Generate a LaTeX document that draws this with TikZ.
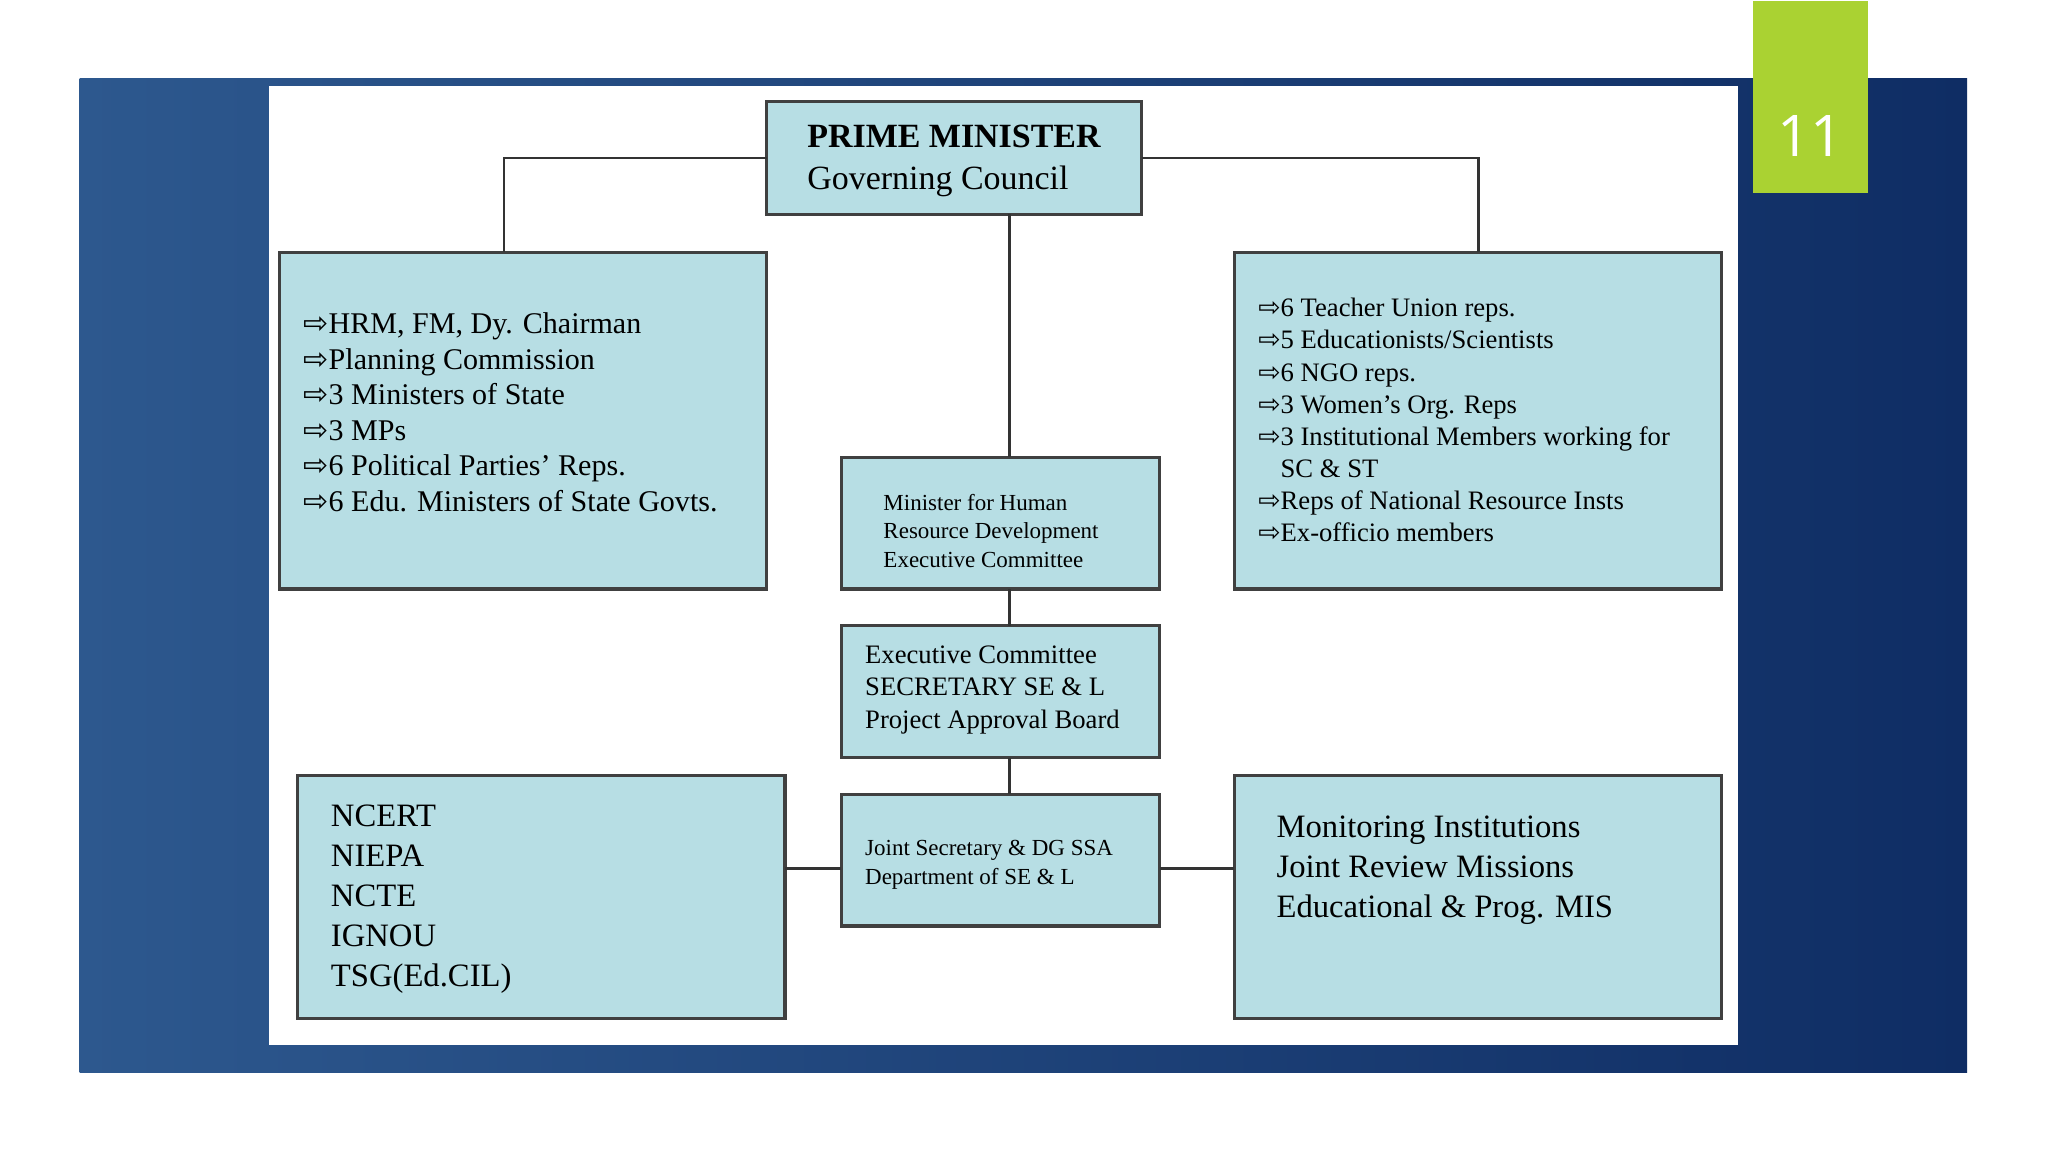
\documentclass[tikz,border=0pt]{standalone}
\usepackage{fontspec}
\setmainfont{Liberation Serif}
\newfontfamily\dejavu{DejaVu Sans}
\newfontfamily\sansf{Open Sans}
\newcommand{\ar}{{\dejavu\char"21E8}}
\begin{document}
\begin{tikzpicture}[x=0.5pt,y=-0.5pt,
 box/.style={draw=black!75,line width=1.2pt,fill={rgb,255:red,183;green,222;blue,228}},
 ln/.style={draw=black!80,line width=1pt},
 txt/.style={anchor=north west,align=left,inner sep=0pt}]
\useasboundingbox (0,0) rectangle (1568,882);
\fill[white] (0,0) rectangle (1568,882);
\shade[left color={rgb,255:red,45;green,88;blue,142},right color={rgb,255:red,15;green,45;blue,100}] (61,60) rectangle (1506,821);
\fill[white] (206,66) rectangle (1331,800);
\node[fill={rgb,255:red,170;green,210;blue,50},minimum width=44pt,minimum height=73.5pt,inner sep=0pt,anchor=north west] (tab) at (1342,0) {};
\node[text=white,font=\sansf\fontsize{22}{24}\selectfont] (num) at (1386,104) {11};
\draw[box] (587,78) rectangle (874,164) node[pos=0.5,coordinate] (pm) {};
\node (pmt) at ([yshift=-1pt]pm) [align=left,font=\fontsize{13}{16}\selectfont] {\textbf{PRIME MINISTER}\\Governing Council};
\draw[box] (214,193) rectangle (587,451);
\draw[box] (945,193) rectangle (1318,451);
\draw[box] (644,350) rectangle (888,451);
\draw[box] (644,479) rectangle (888,580);
\draw[box] (644,608) rectangle (888,709);
\draw[box] (228,594) rectangle (601,780);
\draw[box] (945,594) rectangle (1318,780);
\coordinate (pmL) at (587,121); \coordinate (pmR) at (874,121);
\coordinate (lt) at (386,193); \coordinate (rt) at (1132,193);
\draw[ln] (pmL) -| (lt);
\draw[ln] (pmR) -| (rt);
\coordinate (pmB) at (773,164); \coordinate (m1T) at (773,350);
\coordinate (m1B) at (773,451); \coordinate (m2T) at (773,479);
\coordinate (m2B) at (773,580); \coordinate (m3T) at (773,608);
\draw[ln] (pmB)--(m1T); \draw[ln] (m1B)--(m2T); \draw[ln] (m2B)--(m3T);
\coordinate (m3L) at (644,665); \coordinate (blR) at (601,665);
\coordinate (m3R) at (888,665); \coordinate (brL) at (945,665);
\draw[ln] (m3L)--(blR); \draw[ln] (m3R)--(brL);
\node[txt,font=\fontsize{11.5}{13.6}\selectfont] (lefttxt) at (232,239) {\ar HRM, FM, Dy. Chairman\\\ar Planning Commission\\\ar 3 Ministers of State\\\ar 3 MPs\\\ar 6 Political Parties' Reps.\\\ar 6 Edu. Ministers of State Govts.};
\node[txt,font=\fontsize{10.2}{12.3}\selectfont] (righttxt) at (963,228) {\ar 6 Teacher Union reps.\\\ar 5 Educationists/Scientists\\\ar 6 NGO reps.\\\ar 3 Women's Org. Reps\\\ar 3 Institutional Members working for\\\phantom{\ar}SC \& ST\\\ar Reps of National Resource Insts\\\ar Ex-officio members};
\node[txt,font=\fontsize{8.8}{10.9}\selectfont] (m1t) at (676,378) {Minister for Human\\Resource Development\\Executive Committee};
\node[txt,font=\fontsize{10.2}{12.4}\selectfont] (m2t) at (662,494) {Executive Committee\\SECRETARY SE \& L\\Project Approval Board};
\node[txt,font=\fontsize{8.8}{11.2}\selectfont] (m3t) at (662,643) {Joint Secretary \& DG SSA\\Department of SE \& L};
\node[txt,font=\fontsize{12.5}{15.3}\selectfont] (blt) at (253,616) {NCERT\\NIEPA\\NCTE\\IGNOU\\TSG(Ed.CIL)};
\node[txt,font=\fontsize{12.5}{15.3}\selectfont] (brt) at (977,624) {Monitoring Institutions\\Joint Review Missions\\Educational \& Prog. MIS};
\end{tikzpicture}
\end{document}
